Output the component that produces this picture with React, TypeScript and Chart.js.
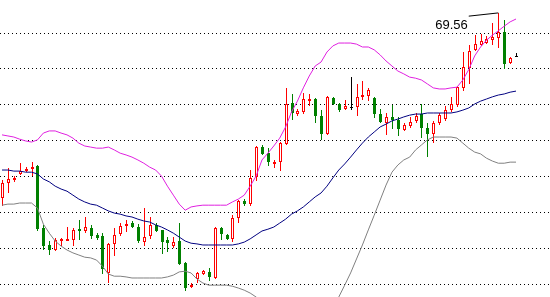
import React, { useEffect, useRef } from "react";
import { Chart, registerables } from "chart.js";

Chart.register(...registerables);

// OHLC prices, one entry per bar (left to right)
const openP = [
  64.43, 64.85, 64.93, 65.10, 65.18, 65.24, 65.29, 63.56, 63.09, 62.98,
  63.23, 63.23, 63.26, 63.53, 63.51, 63.56, 63.37, 63.34, 62.34, 63.14,
  63.42, 63.65, 63.70, 63.59, 63.20, 63.37, 63.65, 63.51, 63.23, 63.09,
  63.20, 62.59, 61.94, 62.17, 62.31, 62.34, 62.20, 63.56, 63.37, 63.28,
  63.87, 64.31, 64.26, 65.01, 65.82, 65.65, 65.37, 65.43, 65.93, 67.05,
  66.77, 66.82, 67.13, 67.16, 66.69, 66.21, 67.19, 67.02, 66.91, 66.94,
  66.96, 67.24, 67.27, 67.19, 66.74, 66.52, 66.66, 66.57, 66.32, 66.43,
  66.57, 66.74, 66.35, 66.21, 66.52, 66.63, 66.88, 67.02, 67.49, 68.05,
  68.55, 68.69, 68.75, 68.83, 68.89, 69.03, 68.19, 68.36,
];
const highP = [
  64.90, 65.24, 65.01, 65.37, 65.26, 65.40, 65.32, 63.65, 63.20, 63.28,
  63.28, 63.59, 63.56, 63.79, 63.87, 63.65, 63.42, 63.42, 63.14, 63.56,
  63.70, 63.79, 63.76, 63.67, 64.12, 63.87, 63.70, 63.51, 63.31, 63.31,
  63.70, 62.61, 62.03, 62.34, 62.39, 62.45, 63.59, 63.59, 63.39, 63.92,
  64.34, 64.37, 65.18, 65.85, 65.88, 65.79, 65.46, 65.96, 67.47, 67.30,
  66.88, 67.33, 67.30, 67.19, 66.85, 67.24, 67.22, 67.05, 67.13, 67.77,
  67.58, 67.66, 67.47, 67.22, 66.88, 66.77, 66.99, 66.66, 66.49, 66.66,
  66.77, 67.02, 66.49, 66.55, 66.77, 66.96, 67.22, 67.52, 68.47, 68.67,
  68.94, 68.97, 68.92, 69.28, 69.56, 69.36, 68.33, 68.44,
];
const lowP = [
  64.20, 64.57, 64.87, 65.07, 65.15, 65.04, 63.51, 62.98, 62.84, 62.95,
  63.09, 63.23, 63.09, 63.26, 63.45, 63.28, 63.26, 62.31, 62.06, 62.81,
  63.37, 63.48, 63.59, 63.17, 63.09, 63.28, 63.48, 62.87, 62.92, 63.03,
  62.56, 61.83, 61.92, 62.06, 62.28, 62.11, 62.17, 63.26, 63.26, 63.20,
  63.73, 64.20, 64.20, 64.90, 65.63, 65.32, 65.26, 65.18, 65.90, 66.60,
  66.71, 66.77, 66.99, 66.52, 66.04, 66.18, 67.02, 66.82, 66.88, 66.88,
  66.71, 67.16, 67.13, 66.66, 66.52, 66.18, 66.35, 66.16, 66.30, 66.38,
  66.52, 66.10, 65.57, 65.96, 66.46, 66.57, 66.82, 66.96, 67.41, 67.61,
  68.53, 68.67, 68.72, 68.69, 68.61, 68.02, 68.16, 68.36,
];
const closeP = [
  64.82, 64.93, 64.96, 65.15, 65.21, 65.26, 63.56, 63.09, 62.98, 63.23,
  63.26, 63.26, 63.51, 63.51, 63.59, 63.37, 63.31, 62.45, 63.12, 63.37,
  63.62, 63.67, 63.62, 63.23, 63.31, 63.65, 63.51, 63.20, 63.17, 63.17,
  62.59, 61.92, 61.97, 62.31, 62.36, 62.22, 63.56, 63.42, 63.28, 63.84,
  64.31, 64.26, 64.96, 65.82, 65.65, 65.43, 65.40, 65.93, 67.02, 66.80,
  66.82, 67.16, 67.16, 66.71, 66.21, 67.22, 67.05, 66.88, 66.96, 66.94,
  67.22, 67.27, 67.41, 66.77, 66.55, 66.66, 66.60, 66.35, 66.43, 66.52,
  66.69, 66.38, 66.21, 66.49, 66.71, 66.85, 67.02, 67.49, 68.05, 68.50,
  68.69, 68.78, 68.83, 68.89, 69.03, 68.16, 68.30, 68.36,
];

// Bollinger bands
const upperBand = [
  66.16, 66.13, 66.10, 66.04, 65.99, 65.96, 66.02, 66.21, 66.27, 66.27,
  66.21, 66.16, 66.07, 65.93, 65.85, 65.82, 65.79, 65.79, 65.82, 65.74,
  65.65, 65.60, 65.54, 65.46, 65.37, 65.26, 65.18, 65.01, 64.73, 64.48,
  64.23, 64.06, 64.15, 64.18, 64.20, 64.20, 64.20, 64.20, 64.20, 64.29,
  64.37, 64.48, 64.73, 65.01, 65.46, 65.65, 65.85, 66.07, 66.38, 66.80,
  67.10, 67.47, 67.80, 68.08, 68.19, 68.47, 68.64, 68.72, 68.72, 68.72,
  68.69, 68.61, 68.61, 68.53, 68.39, 68.22, 68.08, 67.94, 67.86, 67.77,
  67.74, 67.69, 67.58, 67.47, 67.44, 67.44, 67.47, 67.49, 67.69, 67.98,
  68.36, 68.61, 68.80, 68.94, 69.06, 69.19, 69.31, 69.39,
];
const middleBand = [
  65.18, 65.18, 65.15, 65.15, 65.12, 65.12, 65.07, 64.93, 64.85, 64.73,
  64.65, 64.59, 64.48, 64.37, 64.29, 64.23, 64.20, 64.12, 64.04, 63.98,
  63.95, 63.90, 63.87, 63.81, 63.76, 63.73, 63.65, 63.59, 63.51, 63.42,
  63.31, 63.20, 63.14, 63.12, 63.09, 63.09, 63.09, 63.09, 63.09, 63.09,
  63.12, 63.17, 63.26, 63.37, 63.48, 63.53, 63.59, 63.70, 63.81, 63.95,
  64.04, 64.15, 64.29, 64.43, 64.54, 64.73, 64.96, 65.18, 65.35, 65.54,
  65.74, 65.93, 66.10, 66.24, 66.38, 66.46, 66.55, 66.60, 66.66, 66.71,
  66.74, 66.74, 66.77, 66.77, 66.77, 66.77, 66.77, 66.80, 66.85, 66.91,
  67.02, 67.10, 67.16, 67.22, 67.27, 67.30, 67.35, 67.38,
];
const lowerBand = [
  64.20, 64.23, 64.23, 64.26, 64.26, 64.26, 64.12, 63.67, 63.42, 63.20,
  63.06, 62.95, 62.87, 62.81, 62.75, 62.73, 62.67, 62.50, 62.28, 62.22,
  62.22, 62.20, 62.17, 62.17, 62.17, 62.17, 62.17, 62.17, 62.20, 62.25,
  62.34, 62.36, 62.31, 62.14, 62.03, 61.97, 61.97, 61.97, 61.97, 61.94,
  61.89, 61.83, 61.75, 61.64, 61.50, 61.42, 61.33, 61.33, 61.25, 61.11,
  61.00, 60.83, 60.75, 60.77, 60.89, 61.00, 61.28, 61.64, 61.97, 62.31,
  62.70, 63.09, 63.51, 63.92, 64.34, 64.76, 65.12, 65.32, 65.46, 65.54,
  65.74, 65.88, 66.02, 66.10, 66.10, 66.10, 66.10, 66.07, 65.93, 65.79,
  65.68, 65.63, 65.51, 65.43, 65.37, 65.37, 65.40, 65.40,
];

// Horizontal grid levels
const gridLevels = [69, 68, 67, 66, 65, 64, 63, 62];

// High marker line and its label
const trendIdx = [79, 84];
const trendVal = [69.47, 69.56];
const highLabel = "69.56";

const X_MIN = -0.34;
const X_MAX = 92.75;
const Y_MIN = 61.64;
const Y_MAX = 69.92;

const UP_COLOR = "#ff0000";
const DOWN_COLOR = "#008000";
const DOJI_COLOR = "#000000";

const candlePlugin = {
  id: "candles",
  beforeDatasetsDraw(chart: any) {
    const ctx = chart.ctx;
    const xs = chart.scales.x;
    const ys = chart.scales.y;
    const a = chart.chartArea;
    ctx.save();
    ctx.beginPath();
    ctx.rect(a.left, a.top, a.right - a.left, a.bottom - a.top);
    ctx.clip();
    for (let i = 0; i < openP.length; i++) {
      const o = openP[i], h = highP[i], l = lowP[i], c = closeP[i];
      const x = Math.round(xs.getPixelForValue(i));
      const yo = Math.round(ys.getPixelForValue(o));
      const yc = Math.round(ys.getPixelForValue(c));
      const yh = Math.round(ys.getPixelForValue(h));
      const yl = Math.round(ys.getPixelForValue(l));
      const color = c > o ? UP_COLOR : c < o ? DOWN_COLOR : DOJI_COLOR;
      ctx.fillStyle = color;
      ctx.fillRect(x, yh, 1, yl - yh + 1);
      const top = Math.min(yo, yc);
      const bot = Math.max(yo, yc);
      if (c > o) {
        ctx.fillRect(x - 1, top, 3, bot - top + 1);
        if (bot - top >= 2) {
          ctx.fillStyle = "#ffffff";
          ctx.fillRect(x, top + 1, 1, bot - top - 1);
        }
      } else if (c < o) {
        ctx.fillRect(x - 1, top, 3, bot - top + 1);
      } else {
        ctx.fillRect(x - 1, yo, 3, 1);
      }
    }
    ctx.restore();
  },
};

const labelPlugin = {
  id: "highLabel",
  afterDatasetsDraw(chart: any) {
    const ctx = chart.ctx;
    const xs = chart.scales.x;
    const ys = chart.scales.y;
    const x = xs.getPixelForValue(trendIdx[0]) - 1;
    const y = ys.getPixelForValue(trendVal[1]) + 13;
    ctx.save();
    ctx.fillStyle = "#000000";
    ctx.font = '13px "Liberation Sans", Arial, sans-serif';
    ctx.textAlign = "right";
    ctx.textBaseline = "middle";
    ctx.fillText(highLabel, x, y);
    ctx.restore();
  },
};

export default function App() {
  const canvasRef = useRef<HTMLCanvasElement | null>(null);

  useEffect(() => {
    if (!canvasRef.current) return;
    const toPts = (arr: number[]) => arr.map((v, i) => ({ x: i, y: v }));
    const chart = new Chart(canvasRef.current, {
      type: "line",
      data: {
        datasets: [
          {
            label: "Upper",
            data: toPts(upperBand),
            borderColor: "#e020e0",
            borderWidth: 1,
            pointRadius: 0,
            tension: 0,
          },
          {
            label: "Middle",
            data: toPts(middleBand),
            borderColor: "#000080",
            borderWidth: 1,
            pointRadius: 0,
            tension: 0,
          },
          {
            label: "Lower",
            data: toPts(lowerBand),
            borderColor: "#808080",
            borderWidth: 1,
            pointRadius: 0,
            tension: 0,
          },
          {
            label: "High line",
            data: trendIdx.map((x, i) => ({ x, y: trendVal[i] })),
            borderColor: "#000000",
            borderWidth: 1,
            pointRadius: 0,
            tension: 0,
          },
        ],
      },
      options: {
        animation: false,
        responsive: false,
        devicePixelRatio: 1,
        layout: { padding: 0 },
        plugins: { legend: { display: false }, tooltip: { enabled: false } },
        scales: {
          x: { type: "linear", min: X_MIN, max: X_MAX, display: false },
          y: {
            type: "linear",
            min: Y_MIN,
            max: Y_MAX,
            display: true,
            ticks: { display: false },
            border: { display: false, dash: [1, 3] },
            grid: { color: "#000000", lineWidth: 1, drawTicks: false, tickLength: 0 },
            afterBuildTicks: (s: any) => {
              s.ticks = gridLevels.map((v) => ({ value: v }));
            },
          },
        },
      },
      plugins: [candlePlugin, labelPlugin],
    });
    return () => chart.destroy();
  }, []);

  return (
    <div style={{ position: "absolute", left: 0, top: 0, width: 550, height: 297, background: "#fff" }}>
      <canvas ref={canvasRef} width={550} height={297} />
    </div>
  );
}
